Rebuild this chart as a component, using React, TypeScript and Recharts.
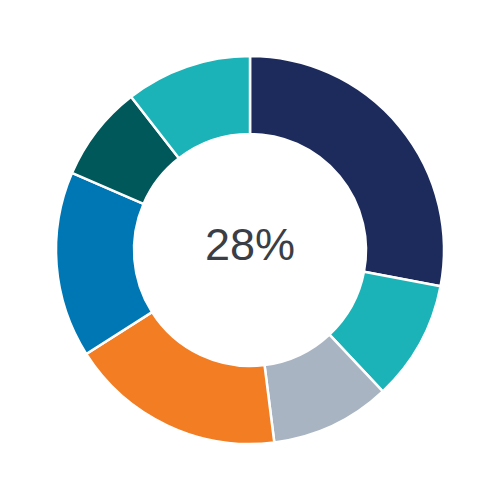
import { PieChart, Pie, Cell, Label } from 'recharts';

const segments = ['Segment A', 'Segment B', 'Segment C', 'Segment D', 'Segment E', 'Segment F', 'Segment G'];
const shares = [28, 10, 10, 18, 15.5, 8, 10.5];
const colors = ['#1d2b5c', '#1bb3b7', '#a9b4c2', '#f27d22', '#0077b5', '#00585a', '#1bb3b7'];

const data = segments.map((name, i) => ({ name, value: shares[i] }));
const total = shares.reduce((a, b) => a + b, 0);
const centerLabel = `${Math.round((shares[0] / total) * 100)}%`;

export default function App() {
  return (
    <div style={{ position: 'absolute', left: 0, top: 0, width: 500, height: 500, background: '#fff' }}>
      <PieChart width={500} height={500} margin={{ top: 0, right: 0, bottom: 0, left: 0 }}>
        <Pie
          data={data}
          dataKey="value"
          cx={250}
          cy={250}
          innerRadius={116}
          outerRadius={194}
          startAngle={90}
          endAngle={-270}
          stroke="#ffffff"
          strokeWidth={2.5}
          isAnimationActive={false}
        >
          {data.map((entry, index) => (
            <Cell key={`cell-${index}`} fill={colors[index]} />
          ))}
          <Label
            value={centerLabel}
            position="center"
            fill="#3a3f47"
            fontSize={45}
            fontFamily="'Liberation Sans', Arial, sans-serif"
            dy={-6}
          />
        </Pie>
      </PieChart>
    </div>
  );
}
